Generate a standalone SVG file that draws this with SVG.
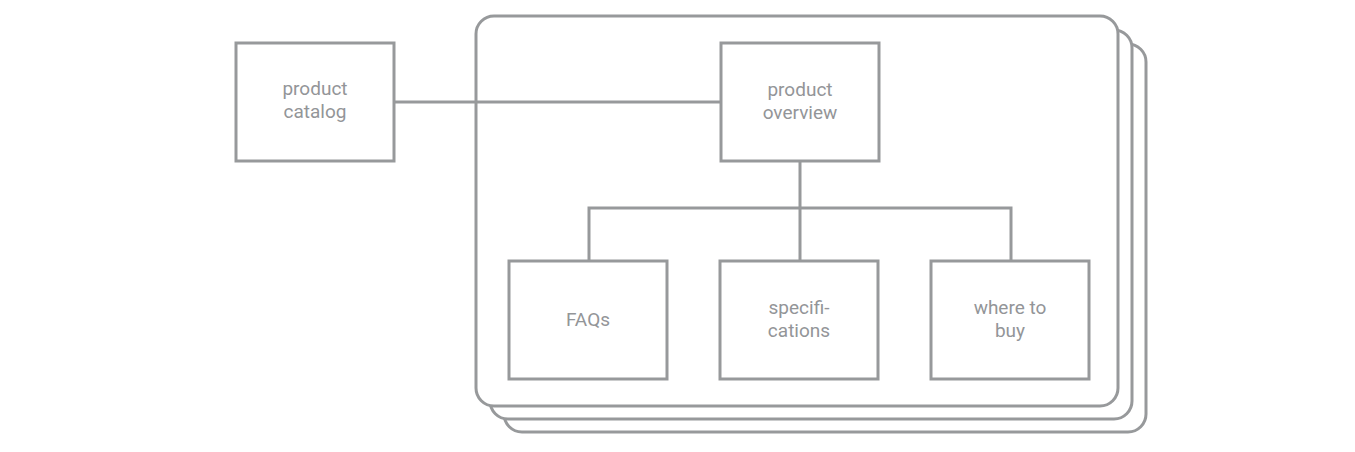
<svg xmlns="http://www.w3.org/2000/svg" width="1355" height="452" viewBox="0 0 1355 452">
<style>
.c{fill:#fff;stroke:#97999b;stroke-width:3}
.n{fill:#fff;stroke:#97999b;stroke-width:3}
.l{fill:none;stroke:#97999b;stroke-width:3}
text{font-family:Roboto,"Liberation Sans",sans-serif;font-size:19px;fill:#939598;text-anchor:middle}
</style>
<rect width="1355" height="452" fill="#fff"/>
<g id="stack">
<rect class="c" x="504" y="44" width="642" height="388" rx="18"/>
<rect class="c" x="490" y="30" width="642" height="389" rx="18"/>
<rect class="c" x="476" y="16" width="642" height="390" rx="18"/>
</g>
<g id="connectors">
<path class="l" d="M394 102H721"/>
<path class="l" d="M800 161V261M589 261V208H1011V261"/>
</g>
<g id="catalog"><rect class="n" x="236" y="43" width="158" height="118"/><text x="315" y="95">product</text><text x="315" y="118">catalog</text></g>
<g id="overview"><rect class="n" x="721" y="43" width="158" height="118"/><text x="800" y="96">product</text><text x="800" y="119">overview</text></g>
<g id="faqs"><rect class="n" x="509" y="261" width="158" height="118"/><text x="588" y="326">FAQs</text></g>
<g id="specs"><rect class="n" x="720" y="261" width="158" height="118"/><text x="799" y="314">specifi-</text><text x="799" y="337">cations</text></g>
<g id="buy"><rect class="n" x="931" y="261" width="158" height="118"/><text x="1010" y="314">where to</text><text x="1010" y="337">buy</text></g>
</svg>
